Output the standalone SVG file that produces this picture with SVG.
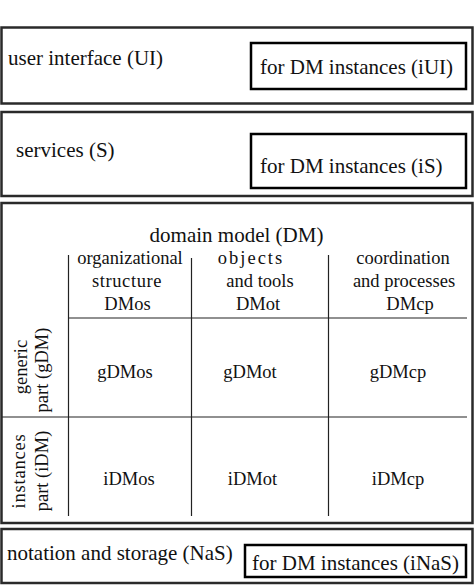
<svg xmlns="http://www.w3.org/2000/svg" width="474" height="585" viewBox="0 0 474 585">
<style>
.outer{fill:#fff;stroke:#2a2a2a;stroke-width:2.5}
.inner{fill:#fff;stroke:#000;stroke-width:2.5}
.grid{stroke:#222;stroke-width:1.2;fill:none}
.t{font-family:'Liberation Serif','Times New Roman','DejaVu Serif',serif;fill:#111}
.big{font-size:21px}
.sm{font-size:18.5px}
.mid{text-anchor:middle}
</style>
<rect x="0" y="0" width="474" height="585" fill="#fff"/>
<g id="ui">
<rect class="outer" x="1.5" y="27.5" width="471" height="76"/>
<text class="t big" x="8" y="65">user interface (UI)</text>
</g>
<g id="iui">
<rect class="inner" x="251" y="43" width="215" height="46"/>
<text class="t big" x="260" y="74">for DM instances (iUI)</text>
</g>
<g id="s">
<rect class="outer" x="1.5" y="112" width="471" height="84"/>
<text class="t big" x="16" y="157">services (S)</text>
</g>
<g id="is">
<rect class="inner" x="251" y="134" width="215" height="54"/>
<text class="t big" x="260" y="173">for DM instances (iS)</text>
</g>
<g id="dm">
<rect class="outer" x="1.5" y="203" width="471" height="320"/>
<text class="t big mid" x="236.5" y="242">domain model (DM)</text>
</g>
<g id="connectors">
<line class="grid" x1="68.5" y1="255" x2="68.5" y2="516"/>
<line class="grid" x1="191.5" y1="258" x2="191.5" y2="516"/>
<line class="grid" x1="328.5" y1="255" x2="328.5" y2="516"/>
<line class="grid" x1="68" y1="318" x2="467" y2="318"/>
<line class="grid" x1="2" y1="417" x2="467" y2="417"/>
</g>
<g id="col-os">
<text class="t sm mid" x="130" y="264">organizational</text>
<text class="t sm mid" x="127" y="287" letter-spacing="0.6">structure</text>
<text class="t sm mid" x="127.5" y="310">DMos</text>
</g>
<g id="col-ot">
<text class="t sm mid" x="251" y="264" letter-spacing="2">objects</text>
<text class="t sm mid" x="260" y="287">and tools</text>
<text class="t sm mid" x="258" y="310">DMot</text>
</g>
<g id="col-cp">
<text class="t sm mid" x="403" y="264">coordination</text>
<text class="t sm mid" x="404" y="287">and processes</text>
<text class="t sm mid" x="410" y="310">DMcp</text>
</g>
<g id="row-g">
<text class="t sm mid" transform="translate(27,367) rotate(-90)">generic</text>
<text class="t sm mid" transform="translate(48,370) rotate(-90)">part (gDM)</text>
</g>
<g id="row-i">
<text class="t sm mid" transform="translate(25,471) rotate(-90)" letter-spacing="0.8">instances</text>
<text class="t sm mid" transform="translate(48,471) rotate(-90)">part (iDM)</text>
</g>
<g id="gdmos"><text class="t sm mid" x="125" y="378">gDMos</text></g>
<g id="gdmot"><text class="t sm mid" x="250" y="378">gDMot</text></g>
<g id="gdmcp"><text class="t sm mid" x="398" y="378">gDMcp</text></g>
<g id="idmos"><text class="t sm mid" x="129" y="485">iDMos</text></g>
<g id="idmot"><text class="t sm mid" x="252.5" y="485">iDMot</text></g>
<g id="idmcp"><text class="t sm mid" x="398" y="485">iDMcp</text></g>
<g id="nas">
<rect class="outer" x="1.5" y="529" width="471" height="54"/>
<text class="t big" x="7" y="560">notation and storage (NaS)</text>
</g>
<g id="inas">
<rect class="inner" x="245" y="545" width="221" height="32"/>
<text class="t big" x="252" y="570">for DM instances (iNaS)</text>
</g>
</svg>
